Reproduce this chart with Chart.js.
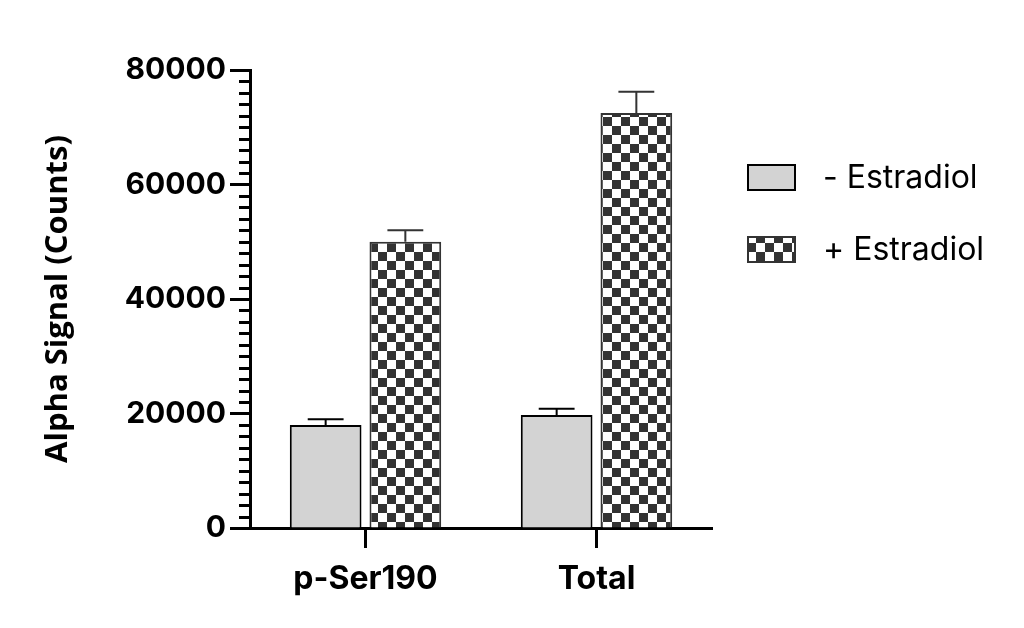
<!DOCTYPE html>
<html><head><meta charset="utf-8">
<script src="https://cdn.jsdelivr.net/npm/chart.js@4"></script>
<style>html,body{margin:0;padding:0;background:#fff;}canvas{display:block;}</style>
</head><body>
<canvas id="c" width="1024" height="628"></canvas>
<script>
const categories = ['p-Ser190', 'Total'];
const seriesLabels = ['- Estradiol', '+ Estradiol'];
const minusValues = [18000, 19750];
const minusErrors = [1000, 1100];
const plusValues = [50000, 72500];
const plusErrors = [2000, 3700];
const yMin = 0, yMax = 80000, yMajorStep = 20000, yMinorStep = 2000;

const FONT = 'Inter';
const GRAY = '#d3d3d3';
const DARK = '#333333';

function checker() {
  const c = document.createElement('canvas');
  c.width = 18; c.height = 18;
  const x = c.getContext('2d');
  x.fillStyle = '#ffffff'; x.fillRect(0, 0, 18, 18);
  x.fillStyle = DARK; x.fillRect(0, 0, 9, 9); x.fillRect(9, 9, 9, 9);
  return x.createPattern(c, 'repeat');
}
const pattern = checker();

const errorsPerSet = [minusErrors, plusErrors];
const errColors = ['#000000', DARK];

const extras = {
  id: 'extras',
  afterDatasetsDraw(chart) {
    const ctx = chart.ctx;
    const ys = chart.scales.y;
    ctx.save();
    chart.data.datasets.forEach((ds, di) => {
      const meta = chart.getDatasetMeta(di);
      meta.data.forEach((bar, i) => {
        const v = ds.data[i], e = errorsPerSet[di][i];
        const yTop = ys.getPixelForValue(v + e);
        const yBar = ys.getPixelForValue(v);
        const half = bar.width / 4;
        ctx.strokeStyle = errColors[di];
        ctx.lineWidth = 2;
        ctx.beginPath();
        ctx.moveTo(bar.x, yBar); ctx.lineTo(bar.x, yTop);
        ctx.moveTo(bar.x - half, yTop); ctx.lineTo(bar.x + half, yTop);
        ctx.stroke();
      });
    });
    const left = chart.chartArea.left;
    ctx.strokeStyle = '#000'; ctx.lineWidth = 3;
    for (let v = yMin; v <= yMax; v += yMinorStep) {
      if (v % yMajorStep === 0) continue;
      const y = Math.round(ys.getPixelForValue(v)) + 0.5;
      ctx.beginPath(); ctx.moveTo(left - 11, y); ctx.lineTo(left, y); ctx.stroke();
    }
    const items = [
      {fill: GRAY, stroke: '#000', y: 165},
      {fill: pattern, stroke: DARK, y: 237}
    ];
    items.forEach((it, k) => {
      ctx.fillStyle = it.fill;
      ctx.fillRect(748, it.y, 47, 25);
      ctx.strokeStyle = it.stroke; ctx.lineWidth = 2;
      ctx.strokeRect(748, it.y, 47, 25);
      ctx.fillStyle = '#000';
      ctx.font = '32px ' + FONT;
      ctx.textBaseline = 'middle';
      ctx.textAlign = 'left';
      ctx.fillText(seriesLabels[k], 823, it.y + 13);
    });
    ctx.restore();
  }
};

new Chart(document.getElementById('c'), {
  type: 'bar',
  data: {
    labels: categories,
    datasets: [
      {label: seriesLabels[0], data: minusValues, backgroundColor: GRAY, borderColor: '#000', borderWidth: 2,
       categoryPercentage: 0.69, barPercentage: 0.9},
      {label: seriesLabels[1], data: plusValues, backgroundColor: pattern, borderColor: DARK, borderWidth: 2,
       categoryPercentage: 0.69, barPercentage: 0.9}
    ]
  },
  options: {
    responsive: false,
    animation: false,
    layout: {padding: {left: 40, right: 312, top: 70, bottom: 0}},
    plugins: {legend: {display: false}, tooltip: {enabled: false}},
    scales: {
      x: {
        grid: {display: true, drawOnChartArea: false, offset: false, tickLength: 20, tickWidth: 3, tickColor: '#000'},
        border: {display: true, color: '#000', width: 3},
        ticks: {color: '#000', padding: 12, font: {family: FONT, size: 32, weight: 'bold'}},
        afterFit(s) { s.height = 100; }
      },
      y: {
        min: yMin, max: yMax,
        grid: {display: true, drawOnChartArea: false, tickLength: 20, tickWidth: 3, tickColor: '#000'},
        border: {display: true, color: '#000', width: 3},
        ticks: {stepSize: yMajorStep, color: '#000', padding: 4, font: {family: FONT, size: 30, weight: 'bold'},
                callback: (v) => String(v)},
        title: {display: true, text: 'Alpha Signal (Counts)', color: '#000', padding: 0,
                font: {family: "'Open Sans'", size: 31, weight: 'bold'}},
        afterFit(s) { s.width = 210; }
      }
    }
  },
  plugins: [extras]
});
</script>
</body></html>
